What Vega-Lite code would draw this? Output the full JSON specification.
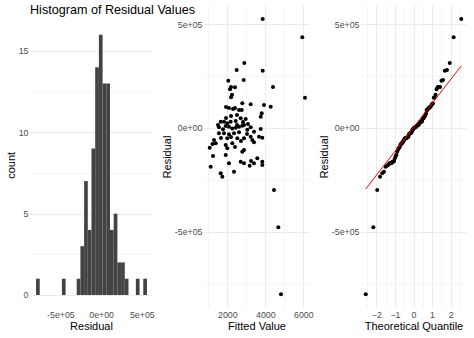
{
  "$schema": "https://vega.github.io/schema/vega-lite/v6.json",
  "padding": {"left": 5, "right": 5, "top": 4, "bottom": 5},
  "background": "white",
  "bounds": "flush",
  "spacing": 52,
  "config": {
    "font": "Liberation Sans",
    "view": {"stroke": null},
    "axis": {
      "domain": false, "ticks": false, "tickSize": 0,
      "labelFontSize": 8.8, "labelColor": "#4D4D4D", "labelPadding": 2,
      "labelFlush": false, "labelOverlap": false,
      "titleFontSize": 11, "titleFontWeight": "normal", "titleColor": "#000000", "titlePadding": 2,
      "gridColor": "#EBEBEB"
    }
  },
  "datasets": {
    "hist": [
      {"bin_start": -805000, "bin_end": -759600, "count": 1},
      {"bin_start": -487200, "bin_end": -441800, "count": 1},
      {"bin_start": -305600, "bin_end": -260200, "count": 1},
      {"bin_start": -260200, "bin_end": -214800, "count": 3},
      {"bin_start": -214800, "bin_end": -169400, "count": 7},
      {"bin_start": -169400, "bin_end": -124000, "count": 4},
      {"bin_start": -124000, "bin_end": -78600, "count": 9},
      {"bin_start": -78600, "bin_end": -33200, "count": 14},
      {"bin_start": -33200, "bin_end": 12200, "count": 16},
      {"bin_start": 12200, "bin_end": 57600, "count": 13},
      {"bin_start": 57600, "bin_end": 103000, "count": 13},
      {"bin_start": 103000, "bin_end": 148400, "count": 4},
      {"bin_start": 148400, "bin_end": 193800, "count": 5},
      {"bin_start": 193800, "bin_end": 239200, "count": 2},
      {"bin_start": 239200, "bin_end": 284600, "count": 2},
      {"bin_start": 284600, "bin_end": 330000, "count": 1},
      {"bin_start": 420800, "bin_end": 466200, "count": 1},
      {"bin_start": 511600, "bin_end": 557000, "count": 1}
    ],
    "scatter": [
      {"fitted": 3863, "residual": 525600}, {"fitted": 5947, "residual": 437400},
      {"fitted": 2895, "residual": 313400}, {"fitted": 2495, "residual": 279700},
      {"fitted": 3863, "residual": 276300}, {"fitted": 2053, "residual": 228100},
      {"fitted": 2863, "residual": 231500}, {"fitted": 2195, "residual": 197700},
      {"fitted": 2405, "residual": 196300}, {"fitted": 2142, "residual": 186600},
      {"fitted": 4405, "residual": 197700}, {"fitted": 2247, "residual": 160600},
      {"fitted": 2195, "residual": 148000}, {"fitted": 6089, "residual": 146100},
      {"fitted": 2789, "residual": 119100}, {"fitted": 3231, "residual": 114300},
      {"fitted": 3931, "residual": 110900}, {"fitted": 4284, "residual": 102700},
      {"fitted": 1932, "residual": 101300}, {"fitted": 2089, "residual": 96400},
      {"fitted": 2300, "residual": 91600}, {"fitted": 2405, "residual": 96400},
      {"fitted": 2616, "residual": 86800}, {"fitted": 2758, "residual": 86800},
      {"fitted": 3810, "residual": 70900}, {"fitted": 3758, "residual": 54500},
      {"fitted": 2705, "residual": 46800}, {"fitted": 2968, "residual": 43400},
      {"fitted": 1653, "residual": 30400}, {"fitted": 1826, "residual": 30400},
      {"fitted": 2000, "residual": 22700}, {"fitted": 2179, "residual": 30400},
      {"fitted": 2442, "residual": 33800}, {"fitted": 1563, "residual": 4000},
      {"fitted": 1774, "residual": -6000}, {"fitted": 1916, "residual": 9000},
      {"fitted": 2089, "residual": 6300}, {"fitted": 2263, "residual": -3000},
      {"fitted": 2442, "residual": 1500}, {"fitted": 2616, "residual": 6300},
      {"fitted": 2789, "residual": 11000}, {"fitted": 2879, "residual": 14500},
      {"fitted": 3053, "residual": -8000}, {"fitted": 3231, "residual": 3000},
      {"fitted": 3405, "residual": -17800}, {"fitted": 3758, "residual": -4800},
      {"fitted": 1563, "residual": -25600}, {"fitted": 1826, "residual": -25600},
      {"fitted": 2089, "residual": -30400}, {"fitted": 2353, "residual": -25600},
      {"fitted": 2616, "residual": -20700}, {"fitted": 2879, "residual": -49700},
      {"fitted": 3231, "residual": -42000}, {"fitted": 3316, "residual": -57900},
      {"fitted": 3668, "residual": -42000}, {"fitted": 3842, "residual": -46800},
      {"fitted": 1300, "residual": -57900}, {"fitted": 1389, "residual": -73800},
      {"fitted": 1221, "residual": -77200}, {"fitted": 2000, "residual": -49700},
      {"fitted": 2263, "residual": -73800}, {"fitted": 2526, "residual": -49700},
      {"fitted": 1916, "residual": -82000}, {"fitted": 2000, "residual": -97900},
      {"fitted": 3405, "residual": -69000}, {"fitted": 2879, "residual": -106100},
      {"fitted": 2789, "residual": -114300}, {"fitted": 1916, "residual": -130200},
      {"fitted": 2089, "residual": -170200}, {"fitted": 1126, "residual": -186600},
      {"fitted": 2353, "residual": -210700}, {"fitted": 1653, "residual": -218400},
      {"fitted": 1737, "residual": -234800}, {"fitted": 2705, "residual": -162500},
      {"fitted": 2879, "residual": -170200}, {"fitted": 3179, "residual": -181800},
      {"fitted": 3405, "residual": -170200}, {"fitted": 3579, "residual": -146100},
      {"fitted": 3842, "residual": -162500}, {"fitted": 3842, "residual": -178400},
      {"fitted": 3247, "residual": -159100}, {"fitted": 1074, "residual": -95000},
      {"fitted": 4458, "residual": -299000}, {"fitted": 4684, "residual": -478800},
      {"fitted": 4826, "residual": -801900}, {"fitted": 2195, "residual": 57900},
      {"fitted": 2510, "residual": 62700}, {"fitted": 1932, "residual": 48200},
      {"fitted": 2826, "residual": 28900}, {"fitted": 3089, "residual": 19300},
      {"fitted": 1510, "residual": 14500}, {"fitted": 2510, "residual": 14500},
      {"fitted": 2195, "residual": -43400}, {"fitted": 2721, "residual": -62700},
      {"fitted": 1668, "residual": -48200}, {"fitted": 3037, "residual": -28900},
      {"fitted": 1247, "residual": -135000}, {"fitted": 2405, "residual": -91600}
    ],
    "qq": [
      {"theoretical": -2.569, "residual": -801900}, {"theoretical": -2.162, "residual": -478800},
      {"theoretical": -1.951, "residual": -299000}, {"theoretical": -1.802, "residual": -234800},
      {"theoretical": -1.685, "residual": -218400}, {"theoretical": -1.588, "residual": -210700},
      {"theoretical": -1.504, "residual": -186600}, {"theoretical": -1.429, "residual": -181800},
      {"theoretical": -1.361, "residual": -178400}, {"theoretical": -1.299, "residual": -170200},
      {"theoretical": -1.242, "residual": -170200}, {"theoretical": -1.188, "residual": -170200},
      {"theoretical": -1.138, "residual": -162500}, {"theoretical": -1.091, "residual": -162500},
      {"theoretical": -1.045, "residual": -159100}, {"theoretical": -1.002, "residual": -146100},
      {"theoretical": -0.961, "residual": -135000}, {"theoretical": -0.921, "residual": -130200},
      {"theoretical": -0.882, "residual": -114300}, {"theoretical": -0.845, "residual": -106100},
      {"theoretical": -0.809, "residual": -97900}, {"theoretical": -0.774, "residual": -95000},
      {"theoretical": -0.740, "residual": -91600}, {"theoretical": -0.707, "residual": -82000},
      {"theoretical": -0.674, "residual": -77200}, {"theoretical": -0.643, "residual": -73800},
      {"theoretical": -0.612, "residual": -73800}, {"theoretical": -0.581, "residual": -69000},
      {"theoretical": -0.551, "residual": -62700}, {"theoretical": -0.522, "residual": -57900},
      {"theoretical": -0.492, "residual": -57900}, {"theoretical": -0.464, "residual": -49700},
      {"theoretical": -0.436, "residual": -49700}, {"theoretical": -0.408, "residual": -49700},
      {"theoretical": -0.380, "residual": -48200}, {"theoretical": -0.353, "residual": -46800},
      {"theoretical": -0.326, "residual": -43400}, {"theoretical": -0.299, "residual": -42000},
      {"theoretical": -0.272, "residual": -42000}, {"theoretical": -0.245, "residual": -30400},
      {"theoretical": -0.219, "residual": -28900}, {"theoretical": -0.193, "residual": -25600},
      {"theoretical": -0.167, "residual": -25600}, {"theoretical": -0.141, "residual": -25600},
      {"theoretical": -0.115, "residual": -20700}, {"theoretical": -0.090, "residual": -17800},
      {"theoretical": -0.064, "residual": -8000}, {"theoretical": -0.038, "residual": -6000},
      {"theoretical": -0.013, "residual": -4800}, {"theoretical": 0.013, "residual": -3000},
      {"theoretical": 0.038, "residual": 1500}, {"theoretical": 0.064, "residual": 3000},
      {"theoretical": 0.090, "residual": 4000}, {"theoretical": 0.115, "residual": 6300},
      {"theoretical": 0.141, "residual": 6300}, {"theoretical": 0.167, "residual": 9000},
      {"theoretical": 0.193, "residual": 11000}, {"theoretical": 0.219, "residual": 14500},
      {"theoretical": 0.245, "residual": 14500}, {"theoretical": 0.272, "residual": 14500},
      {"theoretical": 0.299, "residual": 19300}, {"theoretical": 0.326, "residual": 22700},
      {"theoretical": 0.353, "residual": 28900}, {"theoretical": 0.380, "residual": 30400},
      {"theoretical": 0.408, "residual": 30400}, {"theoretical": 0.436, "residual": 30400},
      {"theoretical": 0.464, "residual": 33800}, {"theoretical": 0.492, "residual": 43400},
      {"theoretical": 0.522, "residual": 46800}, {"theoretical": 0.551, "residual": 48200},
      {"theoretical": 0.581, "residual": 54500}, {"theoretical": 0.612, "residual": 57900},
      {"theoretical": 0.643, "residual": 62700}, {"theoretical": 0.674, "residual": 70900},
      {"theoretical": 0.707, "residual": 86800}, {"theoretical": 0.740, "residual": 86800},
      {"theoretical": 0.774, "residual": 91600}, {"theoretical": 0.809, "residual": 96400},
      {"theoretical": 0.845, "residual": 96400}, {"theoretical": 0.882, "residual": 101300},
      {"theoretical": 0.921, "residual": 102700}, {"theoretical": 0.961, "residual": 110900},
      {"theoretical": 1.002, "residual": 114300}, {"theoretical": 1.045, "residual": 119100},
      {"theoretical": 1.091, "residual": 146100}, {"theoretical": 1.138, "residual": 148000},
      {"theoretical": 1.188, "residual": 160600}, {"theoretical": 1.242, "residual": 186600},
      {"theoretical": 1.299, "residual": 196300}, {"theoretical": 1.361, "residual": 197700},
      {"theoretical": 1.429, "residual": 197700}, {"theoretical": 1.504, "residual": 228100},
      {"theoretical": 1.588, "residual": 231500}, {"theoretical": 1.685, "residual": 276300},
      {"theoretical": 1.802, "residual": 279700}, {"theoretical": 1.951, "residual": 313400},
      {"theoretical": 2.162, "residual": 437400}, {"theoretical": 2.569, "residual": 525600}
    ],
    "qqline": [
      {"theoretical": -2.569, "residual": -293900},
      {"theoretical": 2.569, "residual": 299100}
    ]
  },
  "hconcat": [
    {
      "width": 122,
      "height": 303,
      "title": {"text": "Histogram of Residual Values", "anchor": "start", "frame": "group", "fontSize": 12.6, "fontWeight": "normal", "color": "#000000", "offset": -9, "dy": 13, "baseline": "alphabetic", "font": "Liberation Sans"},
      "data": {"name": "hist"},
      "mark": {"type": "bar", "color": "#434343", "stroke": null, "binSpacing": 0},
      "encoding": {
        "x": {
          "field": "bin_start", "type": "quantitative", "title": "Residual",
          "bin": {"binned": true, "step": 45400},
          "scale": {"domain": [-873000, 625000], "nice": false, "zero": false},
          "axis": {
            "values": [-750000, -500000, -250000, 0, 250000, 500000],
            "labelExpr": "datum.value === 0 ? '0e+00' : datum.value === 500000 ? '5e+05' : datum.value === -500000 ? '-5e+05' : ''",
            "gridWidth": {"condition": {"test": "datum.value % 500000 === 0", "value": 1}, "value": 0.5}
          }
        },
        "x2": {"field": "bin_end"},
        "y": {
          "field": "count", "type": "quantitative", "title": "count",
          "scale": {"domain": [-0.8, 16.8], "nice": false, "range": [303, 16.7]},
          "axis": {
            "values": [0, 2.5, 5, 7.5, 10, 12.5, 15],
            "labelExpr": "datum.value % 5 === 0 ? datum.label : ''",
            "gridWidth": {"condition": {"test": "datum.value % 5 === 0", "value": 1}, "value": 0.5}
          }
        }
      }
    },
    {
      "width": 105,
      "height": 303,
      "data": {"name": "scatter"},
      "mark": {"type": "circle", "color": "#000000", "opacity": 1, "size": 16},
      "encoding": {
        "x": {
          "field": "fitted", "type": "quantitative", "title": "Fitted Value",
          "scale": {"domain": [774, 6300], "nice": false, "zero": false},
          "axis": {
            "values": [1000, 2000, 3000, 4000, 5000, 6000],
            "labelExpr": "datum.value % 2000 === 0 ? format(datum.value, 'd') : ''",
            "gridWidth": {"condition": {"test": "datum.value % 2000 === 0", "value": 1}, "value": 0.5}
          }
        },
        "y": {
          "field": "residual", "type": "quantitative", "title": "Residual",
          "scale": {"domain": [-868000, 593000], "nice": false, "zero": false},
          "axis": {
            "values": [-750000, -500000, -250000, 0, 250000, 500000],
            "labelExpr": "datum.value === 0 ? '0e+00' : datum.value === 500000 ? '5e+05' : datum.value === -500000 ? '-5e+05' : ''",
            "gridWidth": {"condition": {"test": "datum.value % 500000 === 0", "value": 1}, "value": 0.5}
          }
        }
      }
    },
    {
      "width": 105,
      "height": 303,
      "encoding": {
        "x": {
          "field": "theoretical", "type": "quantitative", "title": "Theoretical Quantile",
          "scale": {"domain": [-2.826, 2.826], "nice": false, "zero": false},
          "axis": {
            "values": [-2.5, -2, -1.5, -1, -0.5, 0, 0.5, 1, 1.5, 2, 2.5],
            "labelExpr": "datum.value % 1 === 0 ? format(datum.value, 'd') : ''",
            "gridWidth": {"condition": {"test": "datum.value % 1 === 0", "value": 1}, "value": 0.5}
          }
        },
        "y": {
          "field": "residual", "type": "quantitative", "title": "Residual",
          "scale": {"domain": [-868000, 593000], "nice": false, "zero": false},
          "axis": {
            "values": [-750000, -500000, -250000, 0, 250000, 500000],
            "labelExpr": "datum.value === 0 ? '0e+00' : datum.value === 500000 ? '5e+05' : datum.value === -500000 ? '-5e+05' : ''",
            "gridWidth": {"condition": {"test": "datum.value % 500000 === 0", "value": 1}, "value": 0.5}
          }
        }
      },
      "layer": [
        {
          "data": {"name": "qq"},
          "mark": {"type": "circle", "color": "#000000", "opacity": 1, "size": 16}
        },
        {
          "data": {"name": "qqline"},
          "mark": {"type": "line", "color": "#FF0000", "strokeWidth": 1}
        }
      ]
    }
  ]
}
